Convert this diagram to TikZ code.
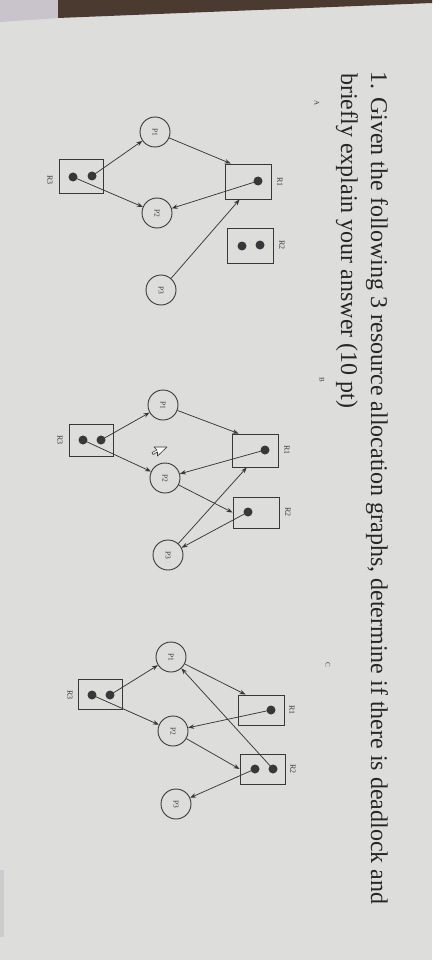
\documentclass[tikz,border=0pt]{standalone}
\usepackage{fontspec}
\setmainfont{Liberation Serif}
\usetikzlibrary{arrows.meta}
\definecolor{page}{HTML}{DDDDDB}
\definecolor{ink}{HTML}{383838}
\definecolor{txt}{HTML}{262626}
\definecolor{darkbg}{HTML}{4A3A30}
\definecolor{lightbg}{HTML}{C9C3CC}
\tikzset{
  proc/.style={circle,draw=ink,line width=0.9pt,minimum size=30pt,inner sep=0pt,
    font=\fontsize{7.5}{7.5}\selectfont,rotate=-90,text=ink},
  res/.style={draw=ink,line width=0.9pt,inner sep=0pt,minimum width=46pt,minimum height=33pt},
  dot/.style={circle,fill=ink,minimum size=9pt,inner sep=0pt},
  lbl/.style={font=\fontsize{8}{8}\selectfont,rotate=-90,text=ink,inner sep=0pt},
  gl/.style={font=\fontsize{7}{7}\selectfont,rotate=-90,text=ink,inner sep=0pt},
  arr/.style={draw=ink,line width=0.75pt,-{Stealth[length=6pt,width=4.5pt]}},
  qtext/.style={rotate=-90,anchor=base west,font=\fontsize{24}{24}\selectfont,text=txt,inner sep=0pt}
}
\begin{document}
\begin{tikzpicture}[x=1pt,y=-1pt]
\useasboundingbox (0,0) rectangle (432,960);
\fill[page] (0,0) rectangle (432,960);
\fill[lightbg] (0,0) -- (58,0) -- (58,18) -- (0,22) -- cycle;
\fill[darkbg] (58,0) -- (432,0) -- (432,3) -- (58,18) -- cycle;
\fill[black!20] (0,870) rectangle (4,937);

% question text
\node[qtext] (l1) at (371,71) {1. Given the following 3 resource allocation graphs, determine if there is deadlock and};
\node[qtext] (l2) at (341,73) {briefly explain your answer (10 pt)};

% ---------------- Graph A ----------------
\node[gl] (la) at (317,103) {A};
\node[proc] (aP1) at (155,132) {P1};
\node[proc] (aP2) at (157,213) {P2};
\node[proc] (aP3) at (161,290) {P3};
\node[res,minimum width=44pt,minimum height=34pt] (aR3) at (81,176) {};
\node[res,minimum height=35pt] (aR1) at (248,181.5) {};
\node[res,minimum height=35pt] (aR2) at (250,245.5) {};
\node[dot] (aR3d1) at (73,177) {};
\node[dot] (aR3d2) at (92,176) {};
\node[dot] (aR1d) at (258,181) {};
\node[dot] (aR2d1) at (242,246) {};
\node[dot] (aR2d2) at (260,245) {};
\node[lbl] (laR3) at (50,180) {R3};
\node[lbl] (laR1) at (280,182) {R1};
\node[lbl] (laR2) at (282,245) {R2};
\draw[arr] (aR3d2.center) -- (aP1);
\draw[arr] (aP1) -- (aR1.134);
\draw[arr] (aR3d1.center) -- (aP2);
\draw[arr] (aR1d.center) -- (aP2);
\draw[arr] (aP3) -- (aR1.245);

% ---------------- Graph B ----------------
\node[gl] (lb) at (322,380) {B};
\node[proc] (bP1) at (163,405) {P1};
\node[proc] (bP2) at (165,478) {P2};
\node[proc] (bP3) at (168,555) {P3};
\node[res,minimum width=44pt,minimum height=32pt] (bR3) at (91,440) {};
\node[res] (bR1) at (255,450.5) {};
\node[res,minimum height=31pt] (bR2) at (256,512.5) {};
\node[dot] (bR3d1) at (83,440) {};
\node[dot] (bR3d2) at (101,440) {};
\node[dot] (bR1d) at (265,450) {};
\node[dot] (bR2d) at (248,512) {};
\node[lbl] (lbR3) at (60,440) {R3};
\node[lbl] (lbR1) at (287,450) {R1};
\node[lbl] (lbR2) at (288,512) {R2};
\draw[arr] (bR3d2.center) -- (bP1);
\draw[arr] (bP1) -- (bR1.134);
\draw[arr] (bR3d1.center) -- (bP2);
\draw[arr] (bR1d.center) -- (bP2);
\draw[arr] (bP2) -- (bR2.west);
\draw[arr] (bP3) -- (bR1.244);
\draw[arr] (bR2d.center) -- (bP3);
% mouse pointer
\draw[ink,fill=white!85!page,line width=0.6pt,line join=round]
  (167,447) -- ++(-13,0) -- ++(3,3) -- ++(-5,2.5) -- ++(1,2) -- ++(4.5,-2.5) -- ++(0,4) -- cycle;

% ---------------- Graph C ----------------
\node[gl] (lc) at (328,665) {C};
\node[proc] (cP1) at (171,657) {P1};
\node[proc] (cP2) at (173,731) {P2};
\node[proc] (cP3) at (176,804) {P3};
\node[res,minimum width=44pt,minimum height=30pt] (cR3) at (100,694.5) {};
\node[res,minimum height=30pt] (cR1) at (261,710) {};
\node[res,minimum width=45pt,minimum height=30pt] (cR2) at (262.5,769) {};
\node[dot] (cR3d1) at (92,695) {};
\node[dot] (cR3d2) at (110,695) {};
\node[dot] (cR1d) at (271,710) {};
\node[dot] (cR2d1) at (255,769) {};
\node[dot] (cR2d2) at (273,769) {};
\node[lbl] (lcR3) at (70,695) {R3};
\node[lbl] (lcR1) at (292,710) {R1};
\node[lbl] (lcR2) at (293,769) {R2};
\draw[arr] (cR3d2.center) -- (cP1);
\draw[arr] (cP1) -- (cR1.135);
\draw[arr] (cR3d1.center) -- (cP2);
\draw[arr] (cR1d.center) -- (cP2);
\draw[arr] (cP2) -- (cR2.west);
\draw[arr] (cR2d2.center) -- (cP1);
\draw[arr] (cR2d1.center) -- (cP3);
\end{tikzpicture}
\end{document}
